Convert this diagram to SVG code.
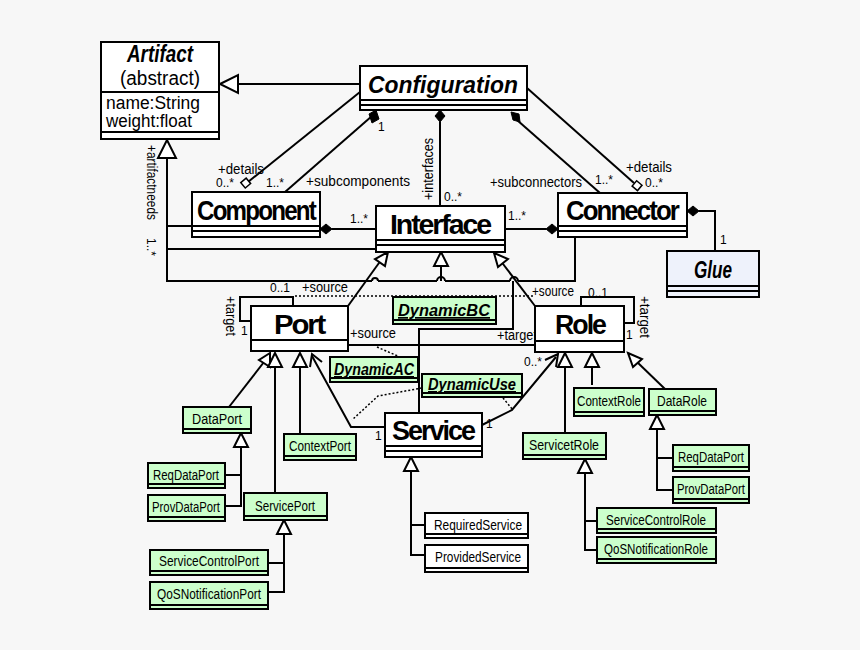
<svg xmlns="http://www.w3.org/2000/svg" width="860" height="650" viewBox="0 0 860 650">
<style>
text{font-family:"Liberation Sans",Arial,sans-serif;fill:#000}
.b{fill:#fff;stroke:#000;stroke-width:2}
.g{fill:#ccffcc;stroke:#000;stroke-width:2}
.bl{fill:#eef2fb;stroke:#000;stroke-width:2}
.l{stroke:#000;stroke-width:2;fill:none}
.d{stroke:#000;stroke-width:1.5;fill:none;stroke-dasharray:2 2}
.t{font-weight:bold;font-size:27px;text-anchor:middle;letter-spacing:-2px}
.ti{font-weight:bold;font-style:italic;font-size:24px;text-anchor:middle}
.s{font-size:14px;text-anchor:middle}
.dy{font-weight:bold;font-style:italic;font-size:17px;text-anchor:middle;text-decoration:underline}
.lb{font-size:14px}
.m{font-size:12px}
.tri{fill:#fff;stroke:#000;stroke-width:2}
.dia{fill:#000;stroke:#000;stroke-width:1}
</style>
<rect width="860" height="650" fill="#f7f7f7"/>
<g id="connectors">
<path class="l" d="M360,84 H238"/><polygon class="tri" points="220,84 238,75 238,93"/>
<path class="l" d="M167,158 V281 H372 M378,281 H437 M445,281 H510 M518,281 H575 V237"/>
<path class="l" d="M372,281 a3,3 0 0 1 6,0 M437,281 a4,4 0 0 1 8,0 M510,281 a4,4 0 0 1 8,0"/>
<path class="l" d="M167,226 H192 M167,249 H376"/>
<polygon class="tri" points="167,140 158,158 176,158"/>
<path class="l" d="M360,92 L248,182"/><rect x="242" y="180" width="7" height="7" transform="rotate(-40 245 183)" fill="#fff" stroke="#000" stroke-width="1.5"/>
<path class="l" d="M372,116 L285,192"/><polygon class="dia" points="376,110 379,119 372,123 369,114"/>
<path class="l" d="M440,122 V206"/><polygon class="dia" points="440,110 445,116 440,122 435,116"/>
<path class="l" d="M517,120 L600,193"/><polygon class="dia" points="511,112 519,114 520,122 513,120"/>
<path class="l" d="M527,88 L634,183"/><rect x="634" y="182" width="7" height="7" transform="rotate(40 637 185)" fill="#fff" stroke="#000" stroke-width="1.5"/>
<path class="l" d="M332,229 H376"/><polygon class="dia" points="320,229 326,224 332,229 326,234"/>
<path class="l" d="M505,229 H546"/><polygon class="dia" points="558,229 552,224 546,229 552,234"/>
<path class="l" d="M699,211 H715 V251"/><polygon class="dia" points="687,211 693,206 699,211 693,216"/>
<path class="l" d="M348,306 L384,256"/><polygon class="tri" points="388,252 385,266 375,259"/>
<path class="l" d="M419,413 V329 H513 V281 M441,281 V266"/>
<polygon class="tri" points="441,252 434,266 448,266"/>
<path class="l" d="M535,306 L500,260"/><polygon class="tri" points="494,253 508,259 498,267"/>
<path class="l" d="M293,306 V297 H240 V321 H251"/>
<path class="l" d="M581,306 V297 H634 V323 H624"/>
<path class="l" d="M348,345 H535"/>
<path class="d" d="M295,296 H535"/>
<path class="l" d="M385,427 H351 L312,356"/><path class="l" d="M310,367 L312,354 L322,362"/>
<path class="l" d="M482,425 L512,410 L556,357"/><path class="l" d="M545,360 L558,354 L556,367"/>
<path class="d" d="M377,347 L400,357"/>
<path class="d" d="M422,388 L378,396 L352,420"/>
<path class="d" d="M503,398 L513,410"/>
<path class="l" d="M229,407 L264,362"/><polygon class="tri" points="270,353 270,367 259,360"/>
<path class="l" d="M275,493 V367"/><polygon class="tri" points="275,353 268,367 282,367"/>
<path class="l" d="M300,434 V367"/><polygon class="tri" points="300,353 293,367 307,367"/>
<path class="l" d="M241,447 V506 H225 M241,475 H225"/><polygon class="tri" points="241,433 234,447 248,447"/>
<path class="l" d="M284,534 V592 H268 M284,563 H268"/><polygon class="tri" points="284,520 277,534 291,534"/>
<path class="l" d="M411,471 V555 H425 M411,525 H425"/><polygon class="tri" points="411,457 404,471 418,471"/>
<path class="l" d="M565,433 V367"/><polygon class="tri" points="565,353 558,367 572,367"/>
<path class="l" d="M592,385 V367"/><polygon class="tri" points="592,353 585,367 599,367"/>
<path class="l" d="M665,389 L636,361"/><polygon class="tri" points="628,353 642,359 633,367"/>
<path class="l" d="M657,429 V490 H673 M657,458 H673"/><polygon class="tri" points="657,415 650,429 664,429"/>
<path class="l" d="M585,473 V550 H597 M585,521 H597"/><polygon class="tri" points="585,459 578,473 592,473"/>
</g>
<g id="labels">
<text class="m" x="378" y="131">1</text>
<text class="lb" x="218" y="174" textLength="46" lengthAdjust="spacingAndGlyphs">+details</text>
<text class="m" x="216" y="187">0..*</text>
<text class="m" x="266" y="187">1..*</text>
<text class="lb" x="306" y="186" textLength="104" lengthAdjust="spacingAndGlyphs">+subcomponents</text>
<text class="lb" transform="translate(433,200) rotate(-90)" textLength="62" lengthAdjust="spacingAndGlyphs">+interfaces</text>
<text class="m" x="444" y="201">0..*</text>
<text class="lb" x="490" y="187" textLength="92" lengthAdjust="spacingAndGlyphs">+subconnectors</text>
<text class="m" x="595" y="184">1..*</text>
<text class="lb" x="626" y="172" textLength="46" lengthAdjust="spacingAndGlyphs">+details</text>
<text class="m" x="645" y="187">0..*</text>
<text class="m" x="350" y="223">1..*</text>
<text class="m" x="508" y="220">1..*</text>
<text class="m" x="720" y="244">1</text>
<text class="lb" transform="translate(147,145) rotate(90)" textLength="75" lengthAdjust="spacingAndGlyphs">+artifactneeds</text>
<text class="m" transform="translate(147,238) rotate(90)">1..*</text>
<text class="m" x="270" y="292">0..1</text>
<text class="lb" x="302" y="292" textLength="46" lengthAdjust="spacingAndGlyphs">+source</text>
<text class="lb" transform="translate(226,296) rotate(90)" textLength="40" lengthAdjust="spacingAndGlyphs">+target</text>
<text class="m" x="241" y="335">1</text>
<text class="lb" x="350" y="338" textLength="46" lengthAdjust="spacingAndGlyphs">+source</text>
<text class="lb" x="497" y="340" textLength="40" lengthAdjust="spacingAndGlyphs">+target</text>
<text class="lb" x="532" y="296" textLength="42" lengthAdjust="spacingAndGlyphs">+source</text>
<text class="m" x="588" y="297" textLength="20" lengthAdjust="spacingAndGlyphs">0..1</text>
<text class="lb" transform="translate(640,296) rotate(90)" textLength="42" lengthAdjust="spacingAndGlyphs">+target</text>
<text class="m" x="626" y="339">1</text>
<text class="m" x="524" y="366">0..*</text>
<text class="m" x="375" y="440">1</text>
<text class="m" x="486" y="428">1</text>
</g>
<g id="Artifact">
<rect class="b" x="101" y="42" width="118" height="97"/>
<text class="ti" x="160" y="62" textLength="66" lengthAdjust="spacingAndGlyphs">Artifact</text>
<text x="160" y="85" font-size="20" text-anchor="middle" textLength="80" lengthAdjust="spacingAndGlyphs">(abstract)</text>
<path class="l" d="M101,92 H219 M101,132 H219"/>
<text x="106" y="109" font-size="18" textLength="94" lengthAdjust="spacingAndGlyphs">name:String</text>
<text x="106" y="127" font-size="18" textLength="86" lengthAdjust="spacingAndGlyphs">weight:float</text>
</g>
<g id="Configuration">
<rect class="b" x="360" y="66" width="167" height="44"/>
<text class="ti" x="443" y="93" font-size="27" textLength="150" lengthAdjust="spacingAndGlyphs">Configuration</text>
<path class="l" d="M360,100 H527 M360,105 H527"/>
</g>
<g id="Component">
<rect class="b" x="192" y="192" width="128" height="45"/>
<text class="t" x="256" y="220" textLength="118" lengthAdjust="spacingAndGlyphs">Component</text>
<path class="l" d="M192,226 H320 M192,231 H320"/>
</g>
<g id="Interface">
<rect class="b" x="376" y="206" width="129" height="46"/>
<text class="t" x="440" y="234" textLength="100" lengthAdjust="spacingAndGlyphs">Interface</text>
<path class="l" d="M376,240 H505 M376,245 H505"/>
</g>
<g id="Connector">
<rect class="b" x="558" y="193" width="129" height="44"/>
<text class="t" x="622" y="220" textLength="112" lengthAdjust="spacingAndGlyphs">Connector</text>
<path class="l" d="M558,226 H687 M558,231 H687"/>
</g>
<g id="Glue">
<rect class="bl" x="667" y="251" width="92" height="46"/>
<text class="ti" x="713" y="278" font-size="21" textLength="38" lengthAdjust="spacingAndGlyphs">Glue</text>
<path class="l" d="M667,286 H759 M667,291 H759"/>
</g>
<g id="Port">
<rect class="b" x="251" y="306" width="97" height="45"/>
<text class="t" x="299" y="334" font-size="29" textLength="50" lengthAdjust="spacingAndGlyphs">Port</text>
<path class="l" d="M251,340 H348"/>
</g>
<g id="Role">
<rect class="b" x="535" y="306" width="89" height="46"/>
<text class="t" x="580" y="334" font-size="29" textLength="50" lengthAdjust="spacingAndGlyphs">Role</text>
<path class="l" d="M535,341 H624"/>
</g>
<g id="Service">
<rect class="b" x="385" y="413" width="97" height="44"/>
<text class="t" x="433" y="440" textLength="82" lengthAdjust="spacingAndGlyphs">Service</text>
<path class="l" d="M385,446 H482 M385,451 H482"/>
</g>
<g id="DynamicBC">
<rect class="g" x="393" y="297" width="103" height="27"/>
<path class="l" d="M393,320 H496"/>
<text class="dy" x="444" y="316" textLength="92" lengthAdjust="spacingAndGlyphs">DynamicBC</text>
</g>
<g id="DynamicAC">
<rect class="g" x="330" y="357" width="88" height="25"/>
<path class="l" d="M330,378 H418"/>
<text class="dy" x="374" y="375" textLength="80" lengthAdjust="spacingAndGlyphs">DynamicAC</text>
</g>
<g id="DynamicUse">
<rect class="g" x="422" y="374" width="100" height="23"/>
<path class="l" d="M422,393 H522"/>
<text class="dy" x="472" y="390" textLength="88" lengthAdjust="spacingAndGlyphs">DynamicUse</text>
</g>
<g id="DataPort"><rect class="g" x="183" y="407" width="68" height="26"/><path class="l" d="M183,429 H251"/><text class="s" x="217" y="424" textLength="50" lengthAdjust="spacingAndGlyphs">DataPort</text></g>
<g id="ContextPort"><rect class="g" x="284" y="434" width="72" height="26"/><path class="l" d="M284,456 H356"/><text class="s" x="320" y="451" textLength="62" lengthAdjust="spacingAndGlyphs">ContextPort</text></g>
<g id="ReqDataPortL"><rect class="g" x="148" y="463" width="77" height="25"/><path class="l" d="M148,484 H225"/><text class="s" x="186" y="480" textLength="66" lengthAdjust="spacingAndGlyphs">ReqDataPort</text></g>
<g id="ProvDataPortL"><rect class="g" x="148" y="495" width="77" height="26"/><path class="l" d="M148,517 H225"/><text class="s" x="186" y="512" textLength="68" lengthAdjust="spacingAndGlyphs">ProvDataPort</text></g>
<g id="ServicePort"><rect class="g" x="244" y="493" width="83" height="27"/><path class="l" d="M244,516 H327"/><text class="s" x="285" y="511" textLength="60" lengthAdjust="spacingAndGlyphs">ServicePort</text></g>
<g id="ServiceControlPort"><rect class="g" x="150" y="550" width="118" height="25"/><path class="l" d="M150,571 H268"/><text class="s" x="209" y="566" textLength="100" lengthAdjust="spacingAndGlyphs">ServiceControlPort</text></g>
<g id="QoSNotificationPort"><rect class="g" x="150" y="582" width="118" height="27"/><path class="l" d="M150,605 H268"/><text class="s" x="209" y="599" textLength="104" lengthAdjust="spacingAndGlyphs">QoSNotificationPort</text></g>
<g id="RequiredService"><rect class="b" x="425" y="513" width="103" height="25"/><path class="l" d="M425,534 H528"/><text class="s" x="478" y="530" textLength="88" lengthAdjust="spacingAndGlyphs">RequiredService</text></g>
<g id="ProvidedService"><rect class="b" x="425" y="545" width="103" height="27"/><path class="l" d="M425,568 H528"/><text class="s" x="478" y="562" textLength="86" lengthAdjust="spacingAndGlyphs">ProvidedService</text></g>
<g id="ContextRole"><rect class="g" x="574" y="388" width="70" height="28"/><path class="l" d="M574,412 H644"/><text class="s" x="609" y="406" textLength="64" lengthAdjust="spacingAndGlyphs">ContextRole</text></g>
<g id="DataRole"><rect class="g" x="649" y="389" width="67" height="26"/><path class="l" d="M649,411 H716"/><text class="s" x="682" y="406" textLength="50" lengthAdjust="spacingAndGlyphs">DataRole</text></g>
<g id="ServicetRole"><rect class="g" x="523" y="433" width="83" height="26"/><path class="l" d="M523,455 H606"/><text class="s" x="564" y="450" textLength="70" lengthAdjust="spacingAndGlyphs">ServicetRole</text></g>
<g id="ReqDataPortR"><rect class="g" x="673" y="445" width="76" height="26"/><path class="l" d="M673,467 H749"/><text class="s" x="711" y="462" textLength="66" lengthAdjust="spacingAndGlyphs">ReqDataPort</text></g>
<g id="ProvDataPortR"><rect class="g" x="673" y="477" width="76" height="26"/><path class="l" d="M673,499 H749"/><text class="s" x="711" y="494" textLength="68" lengthAdjust="spacingAndGlyphs">ProvDataPort</text></g>
<g id="ServiceControlRole"><rect class="g" x="597" y="508" width="119" height="25"/><path class="l" d="M597,529 H716"/><text class="s" x="656" y="525" textLength="100" lengthAdjust="spacingAndGlyphs">ServiceControlRole</text></g>
<g id="QoSNotificationRole"><rect class="g" x="597" y="537" width="119" height="26"/><path class="l" d="M597,559 H716"/><text class="s" x="656" y="554" textLength="104" lengthAdjust="spacingAndGlyphs">QoSNotificationRole</text></g>
</svg>
